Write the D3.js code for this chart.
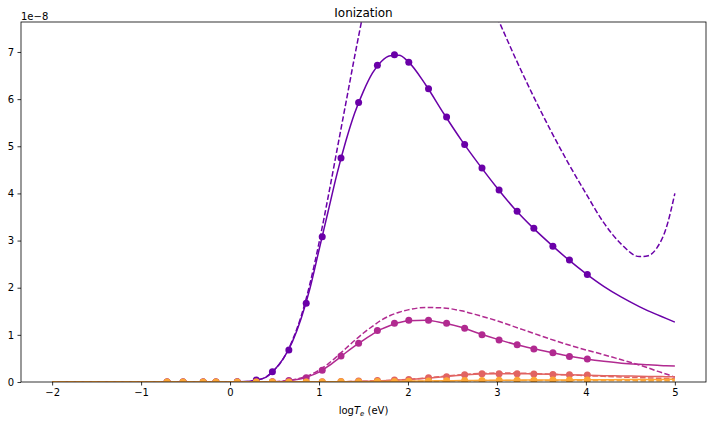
<!DOCTYPE html>
<html>
<head>
<meta charset="utf-8">
<script src="https://cdn.jsdelivr.net/npm/d3@7"></script>
<style>
  body { margin: 0; background: #fff; }
  text { font-family: "DejaVu Sans", sans-serif; }
</style>
</head>
<body>
<div id="container"></div>
<script>

// values are in units of 1e-8 (the axis offset label)
const lineX = [-2, -1.5, -1, -0.5, 0, 0.2, 0.3, 0.4, 0.5, 0.6, 0.7, 0.8, 0.9,
  1.0, 1.1, 1.2, 1.3, 1.4, 1.5, 1.6, 1.7, 1.8, 1.9, 2.0, 2.2, 2.4, 2.6, 2.8,
  3.0, 3.2, 3.4, 3.6, 3.8, 4.0, 4.2, 4.4, 4.6, 4.7, 4.8, 4.9, 5.0];

const dotX = [-0.708, -0.528, -0.302, -0.159, 0.081, 0.295, 0.476, 0.661, 0.856, 1.036,
  1.247, 1.445, 1.656, 1.848, 2.009, 2.231, 2.434, 2.637, 2.832, 3.024, 3.227, 3.415,
  3.629, 3.815, 4.016];

// series 1 (dark purple)
const fit1 = [0, 0, 0, 0, 0, 0.01, 0.04, 0.1, 0.26, 0.5, 0.85, 1.35, 2.0,
  2.8, 3.6, 4.4, 5.1, 5.7, 6.17, 6.55, 6.8, 6.92, 6.93, 6.8, 6.3, 5.7, 5.13, 4.61,
  4.12, 3.67, 3.28, 2.93, 2.6, 2.3, 2.03, 1.8, 1.6, 1.51, 1.43, 1.35, 1.27];
const model1 = [0, 0, 0, 0, 0, 0.01, 0.04, 0.1, 0.26, 0.5, 0.88, 1.4, 2.1,
  2.95, 3.9, 4.9, 5.9, 6.9, 7.85, 8.7, 9.4, 9.9, 10.25, 10.45, 10.5, 10.2, 9.5, 8.6,
  7.75, 6.9, 6.1, 5.35, 4.65, 4.0, 3.38, 2.92, 2.66, 2.68, 2.85, 3.25, 4.0];
const dots1 = [0, 0, 0, 0, 0.005, 0.04, 0.22, 0.68, 1.67, 3.08, 4.75, 5.93, 6.72, 6.94,
  6.78, 6.22, 5.62, 5.04, 4.54, 4.07, 3.62, 3.26, 2.88, 2.59, 2.28];

// series 2 (magenta)
const fit2 = [0, 0, 0, 0, 0, 0, 0, 0, 0, 0.015, 0.04, 0.07, 0.13,
  0.21, 0.33, 0.47, 0.62, 0.76, 0.89, 1.01, 1.12, 1.2, 1.26, 1.3, 1.31, 1.25, 1.16, 1.03,
  0.91, 0.8, 0.71, 0.63, 0.55, 0.49, 0.44, 0.4, 0.375, 0.365, 0.355, 0.345, 0.34];
const model2 = [0, 0, 0, 0, 0, 0, 0, 0, 0.005, 0.02, 0.045, 0.085, 0.15,
  0.25, 0.38, 0.54, 0.71, 0.88, 1.04, 1.18, 1.31, 1.41, 1.48, 1.53, 1.58, 1.57, 1.51, 1.41,
  1.3, 1.17, 1.04, 0.91, 0.79, 0.68, 0.58, 0.47, 0.36, 0.3, 0.23, 0.17, 0.1];
const dots2 = [0, 0, 0, 0, 0, 0, 0.005, 0.03, 0.09, 0.25, 0.55, 0.82, 1.09, 1.245,
  1.31, 1.31, 1.245, 1.14, 1.0, 0.89, 0.79, 0.7, 0.62, 0.54, 0.49];

// series 3 (salmon)
const fit3 = [0, 0, 0, 0, 0, 0, 0, 0, 0, 0, 0, 0, 0,
  0, 0, 0.003, 0.006, 0.01, 0.014, 0.02, 0.026, 0.033, 0.04, 0.05, 0.08, 0.11, 0.145, 0.168,
  0.177, 0.177, 0.172, 0.163, 0.153, 0.144, 0.135, 0.128, 0.122, 0.119, 0.116, 0.113, 0.11];
const model3 = [0, 0, 0, 0, 0, 0, 0, 0, 0, 0, 0, 0, 0,
  0, 0, 0.003, 0.006, 0.01, 0.015, 0.02, 0.027, 0.035, 0.044, 0.055, 0.085, 0.12, 0.155, 0.18,
  0.19, 0.19, 0.18, 0.165, 0.15, 0.135, 0.12, 0.105, 0.092, 0.086, 0.08, 0.074, 0.068];
const dots3 = [0, 0, 0, 0, 0, 0, 0, 0, 0.002, 0.005, 0.01, 0.02, 0.03, 0.04,
  0.055, 0.09, 0.11, 0.155, 0.175, 0.175, 0.175, 0.17, 0.16, 0.155, 0.15];

// series 4 (orange)
const fit4 = [0, 0, 0, 0, 0, 0, 0, 0, 0, 0, 0, 0, 0,
  0.001, 0.002, 0.003, 0.004, 0.005, 0.006, 0.008, 0.009, 0.011, 0.013, 0.015, 0.02, 0.025, 0.03, 0.034,
  0.037, 0.039, 0.041, 0.043, 0.045, 0.047, 0.049, 0.051, 0.053, 0.054, 0.055, 0.056, 0.057];
const model4 = [0, 0, 0, 0, 0, 0, 0, 0, 0, 0, 0, 0, 0,
  0.001, 0.002, 0.003, 0.004, 0.005, 0.006, 0.008, 0.009, 0.011, 0.013, 0.015, 0.019, 0.023, 0.027, 0.03,
  0.032, 0.033, 0.034, 0.034, 0.033, 0.032, 0.031, 0.03, 0.029, 0.028, 0.027, 0.026, 0.025];
const dots4 = [0, 0, 0, 0, 0, 0, 0, 0, 0.001, 0.002, 0.004, 0.006, 0.009, 0.012,
  0.015, 0.02, 0.025, 0.03, 0.034, 0.037, 0.038, 0.039, 0.04, 0.04, 0.04];

const xTicks = [-2, -1, 0, 1, 2, 3, 4, 5];
const yTicks = [0, 1, 2, 3, 4, 5, 6, 7];

const series = [
  { color: '#6a00a8', fit: fit1, model: model1, dots: dots1 },
  { color: '#b12a90', fit: fit2, model: model2, dots: dots2 },
  { color: '#e16462', fit: fit3, model: model3, dots: dots3 },
  { color: '#fca636', fit: fit4, model: model4, dots: dots4 }
];

const width = 712, height = 424;
const m = { left: 21, right: 706, top: 22, bottom: 382 };

const x = d3.scaleLinear().domain([-2.35, 5.35]).range([m.left, m.right]);
const y = d3.scaleLinear().domain([0, 7.636]).range([m.bottom, m.top]);

const svg = d3.create('svg')
    .attr('width', width)
    .attr('height', height);

svg.append('clipPath').attr('id', 'plot')
  .append('rect')
    .attr('x', m.left).attr('y', m.top)
    .attr('width', m.right - m.left).attr('height', m.bottom - m.top);

const g = svg.append('g').attr('clip-path', 'url(#plot)');

const line = d3.line()
    .x((d, i) => x(lineX[i]))
    .y(d => y(d))
    .curve(d3.curveMonotoneX);

series.forEach(s => {
  g.append('path')
      .attr('d', line(s.fit))
      .attr('fill', 'none')
      .attr('stroke', s.color)
      .attr('stroke-width', 1.5);

  g.selectAll(null).data(s.dots).enter().append('circle')
      .attr('cx', (d, i) => x(dotX[i]))
      .attr('cy', d => y(d))
      .attr('r', 3.5)
      .attr('fill', s.color);

  g.append('path')
      .attr('d', line(s.model))
      .attr('fill', 'none')
      .attr('stroke', s.color)
      .attr('stroke-width', 1.5)
      .attr('stroke-dasharray', '5.55,2.4');
});

// axes
const xAxis = svg.append('g')
    .attr('transform', `translate(0,${m.bottom})`)
    .call(d3.axisBottom(x).tickValues(xTicks).tickSize(3.5).tickPadding(3.5));
const yAxis = svg.append('g')
    .attr('transform', `translate(${m.left},0)`)
    .call(d3.axisLeft(y).tickValues(yTicks).tickSize(3.5).tickPadding(3.5).tickFormat(d3.format('d')));

[xAxis, yAxis].forEach(a => {
  a.select('.domain').remove();
  a.selectAll('text').attr('font-size', 10).attr('fill', '#000')
      .attr('font-family', '"DejaVu Sans", sans-serif');
  a.selectAll('line').attr('stroke', '#000').attr('stroke-width', 0.8);
});

svg.append('rect')
    .attr('x', m.left).attr('y', m.top)
    .attr('width', m.right - m.left).attr('height', m.bottom - m.top)
    .attr('fill', 'none')
    .attr('stroke', '#000')
    .attr('stroke-width', 0.8);

svg.append('text')
    .attr('x', m.left).attr('y', 20)
    .attr('font-size', 10)
    .text('1e\u22128');

svg.append('text')
    .attr('x', (m.left + m.right) / 2).attr('y', 17)
    .attr('text-anchor', 'middle')
    .attr('font-size', 12)
    .text('Ionization');

const xl = svg.append('text')
    .attr('x', (m.left + m.right) / 2).attr('y', 414)
    .attr('text-anchor', 'middle')
    .attr('font-size', 10);
xl.append('tspan').text('log');
xl.append('tspan').attr('font-style', 'italic').text('T');
xl.append('tspan').attr('font-style', 'italic').attr('font-size', 7).attr('dy', 1.5).text('e');
xl.append('tspan').attr('dy', -1.5).text(' (eV)');

document.getElementById('container').append(svg.node());

</script>
</body>
</html>
